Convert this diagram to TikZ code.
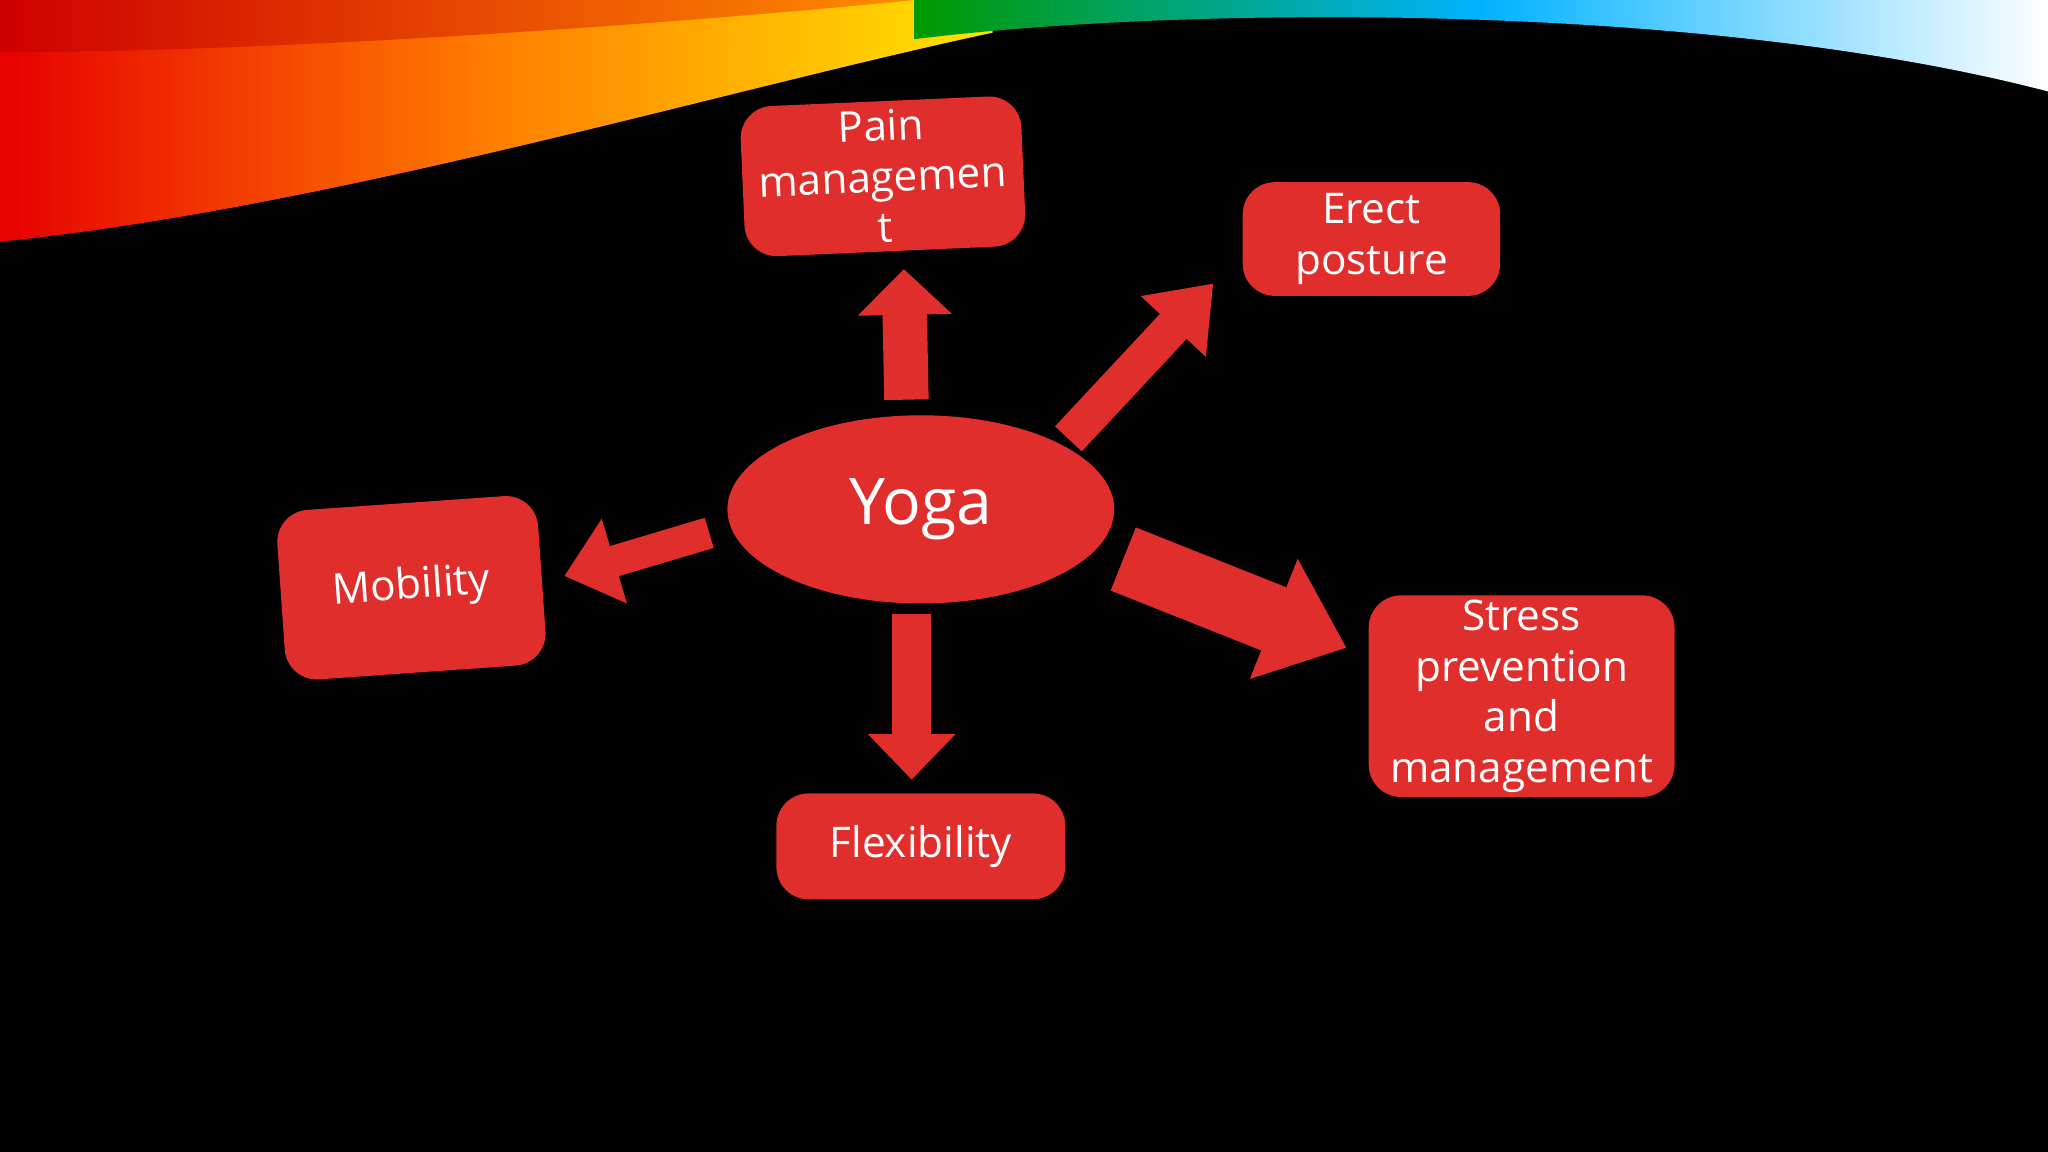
\documentclass[tikz,border=0pt]{standalone}
\usepackage{fontspec}
\setmainfont{Open Sans}
\usetikzlibrary{arrows.meta,shapes.geometric}
\definecolor{boxred}{HTML}{DF2E2C}
\begin{document}
\begin{tikzpicture}[x=0.01cm,y=-0.01cm,
  rbox/.style={fill=boxred,rounded corners=7pt,text=white,align=center,font=\fontsize{9.2}{11}\selectfont,inner sep=1pt},
  barrow/.style={draw=boxred,line cap=butt}]
\fill[black] (0,0) rectangle (1568,882);
\useasboundingbox (0,0) rectangle (1568,882);
\shade[left color=red!90!black,right color=yellow!80!orange,middle color=orange]
  (0,0) -- (0,185) .. controls (250,160) and (550,70) .. (760,25) -- (760,0) -- cycle;
\shade[left color=green!60!black,right color=white,middle color=cyan!70!blue]
  (700,0) -- (700,30) .. controls (900,5) and (1300,0) .. (1568,70) -- (1568,0) -- cycle;
\shade[left color=red!80!black,right color=orange!90!yellow]
  (0,40) .. controls (200,40) and (500,20) .. (700,0) -- (0,0) -- cycle;
\node[rbox,rotate=2.5,minimum width=2.15cm,minimum height=1.15cm] (pain) at (676,135) {Pain\\managemen\\t};
\node[rbox,minimum width=1.97cm,minimum height=0.87cm] (erect) at (1050,183) {Erect\\posture};
\node[rbox,rotate=4,minimum width=2.0cm,minimum height=1.3cm] (mob) at (315,450) {Mobility};
\node[rbox,minimum width=2.34cm,minimum height=1.46cm] (stress) at (1165,533) {Stress\\prevention\\and\\management};
\node[rbox,minimum width=2.21cm,minimum height=0.81cm] (flex) at (705,648) {Flexibility};
\node[ellipse,fill=boxred,minimum width=2.96cm,minimum height=1.44cm,text=white,font=\fontsize{14}{16}\selectfont] (yoga) at (705,390) {Yoga};
\coordinate (a1s) at (694,306); \coordinate (a1e) at (692,206);
\coordinate (a2s) at (818,336); \coordinate (a2e) at (929,217);
\coordinate (a3s) at (543,408); \coordinate (a3e) at (432,441);
\coordinate (a4s) at (860,428); \coordinate (a4e) at (1031,496);
\coordinate (a5s) at (698,470); \coordinate (a5e) at (698,597);
\draw[barrow,line width=0.34cm,-{Triangle[length=0.35cm,width=0.7cm]}] (a1s) -- (a1e);
\draw[barrow,line width=0.28cm,-{Triangle[length=0.45cm,width=0.65cm]}] (a2s) -- (a2e);
\draw[barrow,line width=0.24cm,-{Triangle[length=0.4cm,width=0.65cm]}] (a3s) -- (a3e);
\draw[barrow,line width=0.52cm,-{Triangle[length=0.6cm,width=0.95cm]}] (a4s) -- (a4e);
\draw[barrow,line width=0.30cm,-{Triangle[length=0.35cm,width=0.65cm]}] (a5s) -- (a5e);
\end{tikzpicture}
\end{document}
